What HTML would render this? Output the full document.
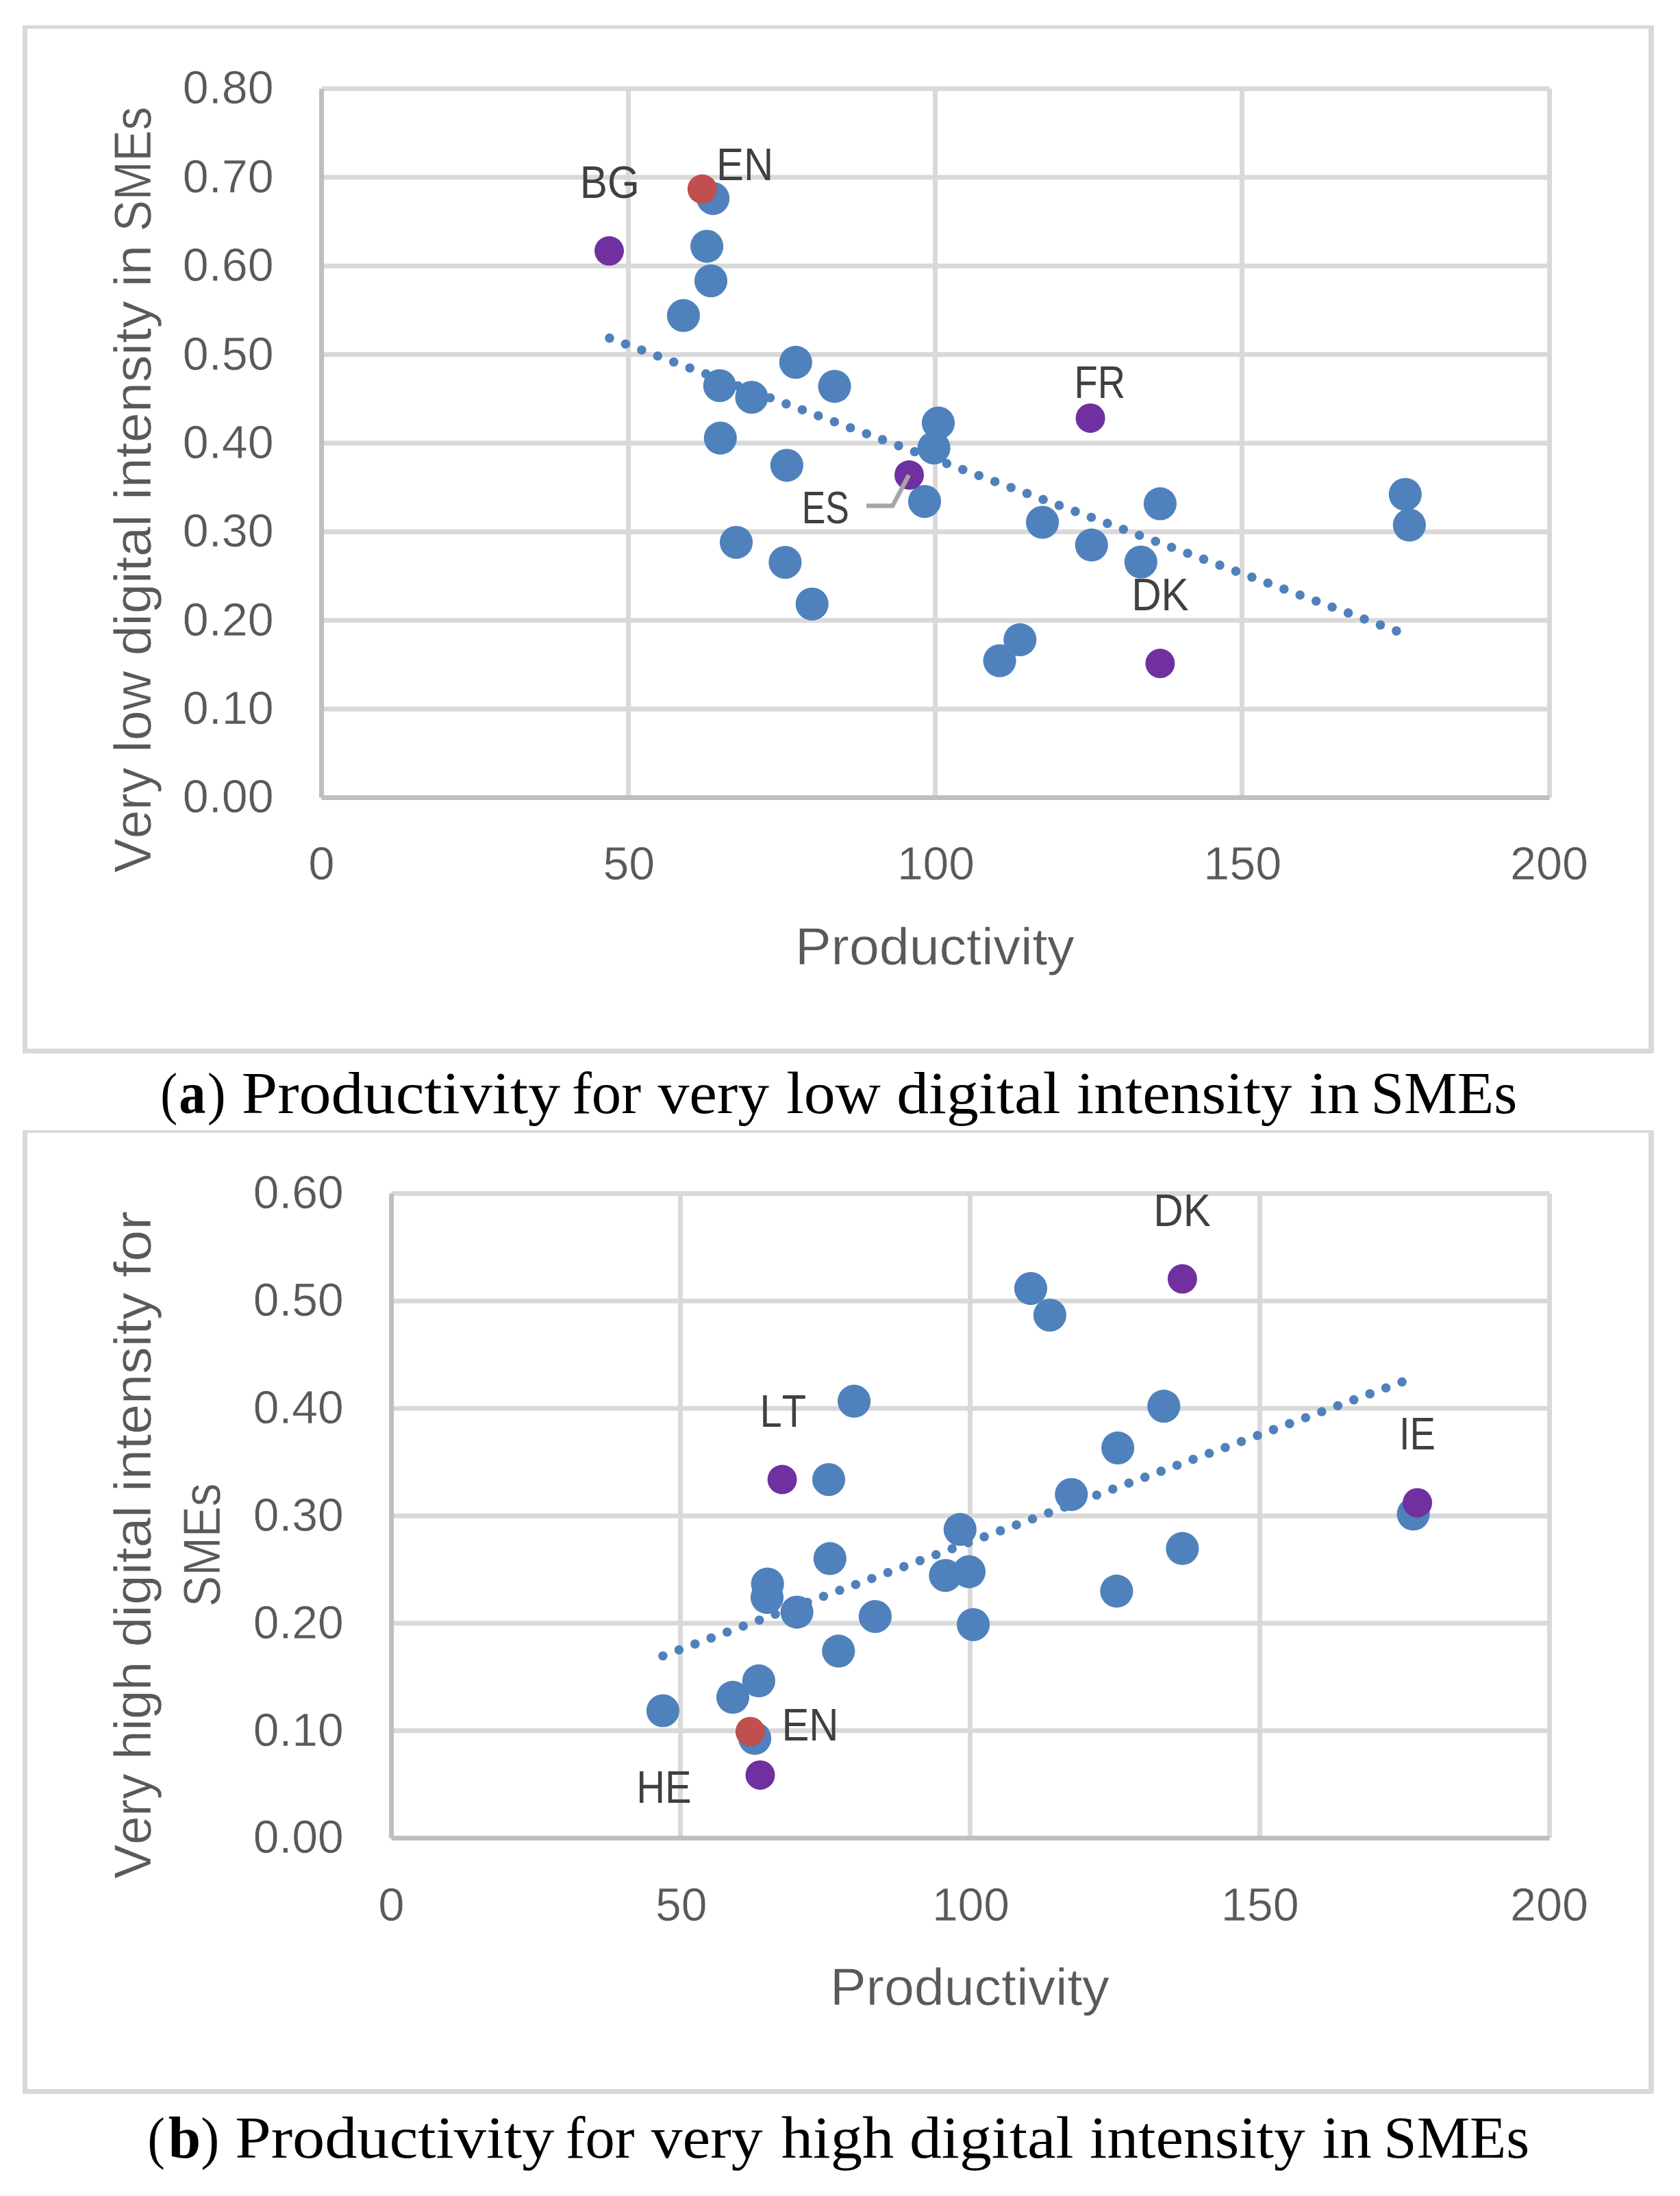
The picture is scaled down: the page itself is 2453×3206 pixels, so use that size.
<!DOCTYPE html>
<html lang="en"><head><meta charset="utf-8"><title>Productivity and digital intensity in SMEs</title>
<style>html,body{margin:0;padding:0;background:#fff}svg{display:block}text{font-family:"Liberation Sans", sans-serif;font-kerning:none}.ax{stroke:#fff;stroke-width:.55px}.cap{font-family:"Liberation Serif", serif}.capb{font-family:"Liberation Serif", serif;font-weight:bold}</style></head><body>
<svg width="2453" height="3206" viewBox="0 0 2453 3206">
<rect width="2453" height="3206" fill="#fff"/>
<rect x="33.00" y="37.00" width="2382.00" height="5.00" fill="#d9d9d9"/>
<rect x="33.00" y="1531.00" width="2381.00" height="7.00" fill="#d9d9d9"/>
<rect x="33.00" y="37.00" width="7.00" height="1501.00" fill="#d9d9d9"/>
<rect x="2407.00" y="37.00" width="8.00" height="1498.00" fill="#d9d9d9"/>
<rect x="469.50" y="126.00" width="1793.00" height="7.00" fill="#d9d9d9"/>
<rect x="469.50" y="255.38" width="1793.00" height="7.00" fill="#d9d9d9"/>
<rect x="469.50" y="384.75" width="1793.00" height="7.00" fill="#d9d9d9"/>
<rect x="469.50" y="514.12" width="1793.00" height="7.00" fill="#d9d9d9"/>
<rect x="469.50" y="643.50" width="1793.00" height="7.00" fill="#d9d9d9"/>
<rect x="469.50" y="772.88" width="1793.00" height="7.00" fill="#d9d9d9"/>
<rect x="469.50" y="902.25" width="1793.00" height="7.00" fill="#d9d9d9"/>
<rect x="469.50" y="1031.62" width="1793.00" height="7.00" fill="#d9d9d9"/>
<rect x="914.00" y="129.50" width="7.00" height="1035.00" fill="#d9d9d9"/>
<rect x="1362.00" y="129.50" width="7.00" height="1035.00" fill="#d9d9d9"/>
<rect x="1810.00" y="129.50" width="7.00" height="1035.00" fill="#d9d9d9"/>
<rect x="2259.00" y="129.50" width="7.00" height="1035.00" fill="#d9d9d9"/>
<rect x="466.00" y="129.50" width="7.00" height="1035.00" fill="#bfbfbf"/>
<rect x="469.50" y="1161.00" width="1793.00" height="7.00" fill="#bfbfbf"/>
<text class="ax" x="266.87" y="151.4" font-size="69.3" fill="#595959" textLength="132.69" lengthAdjust="spacingAndGlyphs">0.80</text>
<text class="ax" x="266.87" y="280.8" font-size="69.3" fill="#595959" textLength="132.69" lengthAdjust="spacingAndGlyphs">0.70</text>
<text class="ax" x="266.87" y="410.1" font-size="69.3" fill="#595959" textLength="132.69" lengthAdjust="spacingAndGlyphs">0.60</text>
<text class="ax" x="266.87" y="539.5" font-size="69.3" fill="#595959" textLength="132.69" lengthAdjust="spacingAndGlyphs">0.50</text>
<text class="ax" x="266.87" y="668.9" font-size="69.3" fill="#595959" textLength="132.69" lengthAdjust="spacingAndGlyphs">0.40</text>
<text class="ax" x="266.87" y="798.3" font-size="69.3" fill="#595959" textLength="132.69" lengthAdjust="spacingAndGlyphs">0.30</text>
<text class="ax" x="266.87" y="927.6" font-size="69.3" fill="#595959" textLength="132.69" lengthAdjust="spacingAndGlyphs">0.20</text>
<text class="ax" x="266.87" y="1057.0" font-size="69.3" fill="#595959" textLength="132.69" lengthAdjust="spacingAndGlyphs">0.10</text>
<text class="ax" x="266.87" y="1186.4" font-size="69.3" fill="#595959" textLength="132.69" lengthAdjust="spacingAndGlyphs">0.00</text>
<text class="ax" x="450.24" y="1283.7" font-size="69.3" fill="#595959" textLength="38.36" lengthAdjust="spacingAndGlyphs">0</text>
<text class="ax" x="880.52" y="1283.7" font-size="69.3" fill="#595959" textLength="75.68" lengthAdjust="spacingAndGlyphs">50</text>
<text class="ax" x="1309.91" y="1283.7" font-size="69.3" fill="#595959" textLength="113.04" lengthAdjust="spacingAndGlyphs">100</text>
<text class="ax" x="1757.37" y="1283.7" font-size="69.3" fill="#595959" textLength="113.95" lengthAdjust="spacingAndGlyphs">150</text>
<text class="ax" x="2204.97" y="1283.7" font-size="69.3" fill="#595959" textLength="114.10" lengthAdjust="spacingAndGlyphs">200</text>
<circle cx="890.0" cy="493.6" r="6.8" fill="#4f81bd"/>
<circle cx="913.4" cy="502.3" r="6.8" fill="#4f81bd"/>
<circle cx="936.9" cy="511.0" r="6.8" fill="#4f81bd"/>
<circle cx="960.3" cy="519.8" r="6.8" fill="#4f81bd"/>
<circle cx="983.8" cy="528.5" r="6.8" fill="#4f81bd"/>
<circle cx="1007.2" cy="537.2" r="6.8" fill="#4f81bd"/>
<circle cx="1030.7" cy="545.9" r="6.8" fill="#4f81bd"/>
<circle cx="1054.1" cy="554.7" r="6.8" fill="#4f81bd"/>
<circle cx="1077.6" cy="563.4" r="6.8" fill="#4f81bd"/>
<circle cx="1101.0" cy="572.1" r="6.8" fill="#4f81bd"/>
<circle cx="1124.5" cy="580.8" r="6.8" fill="#4f81bd"/>
<circle cx="1147.9" cy="589.6" r="6.8" fill="#4f81bd"/>
<circle cx="1171.4" cy="598.3" r="6.8" fill="#4f81bd"/>
<circle cx="1194.8" cy="607.0" r="6.8" fill="#4f81bd"/>
<circle cx="1218.3" cy="615.7" r="6.8" fill="#4f81bd"/>
<circle cx="1241.7" cy="624.5" r="6.8" fill="#4f81bd"/>
<circle cx="1265.2" cy="633.2" r="6.8" fill="#4f81bd"/>
<circle cx="1288.6" cy="641.9" r="6.8" fill="#4f81bd"/>
<circle cx="1312.0" cy="650.6" r="6.8" fill="#4f81bd"/>
<circle cx="1335.5" cy="659.4" r="6.8" fill="#4f81bd"/>
<circle cx="1358.9" cy="668.1" r="6.8" fill="#4f81bd"/>
<circle cx="1382.4" cy="676.8" r="6.8" fill="#4f81bd"/>
<circle cx="1405.8" cy="685.5" r="6.8" fill="#4f81bd"/>
<circle cx="1429.3" cy="694.3" r="6.8" fill="#4f81bd"/>
<circle cx="1452.7" cy="703.0" r="6.8" fill="#4f81bd"/>
<circle cx="1476.2" cy="711.7" r="6.8" fill="#4f81bd"/>
<circle cx="1499.6" cy="720.4" r="6.8" fill="#4f81bd"/>
<circle cx="1523.1" cy="729.2" r="6.8" fill="#4f81bd"/>
<circle cx="1546.5" cy="737.9" r="6.8" fill="#4f81bd"/>
<circle cx="1570.0" cy="746.6" r="6.8" fill="#4f81bd"/>
<circle cx="1593.4" cy="755.3" r="6.8" fill="#4f81bd"/>
<circle cx="1616.9" cy="764.1" r="6.8" fill="#4f81bd"/>
<circle cx="1640.3" cy="772.8" r="6.8" fill="#4f81bd"/>
<circle cx="1663.7" cy="781.5" r="6.8" fill="#4f81bd"/>
<circle cx="1687.2" cy="790.2" r="6.8" fill="#4f81bd"/>
<circle cx="1710.6" cy="799.0" r="6.8" fill="#4f81bd"/>
<circle cx="1734.1" cy="807.7" r="6.8" fill="#4f81bd"/>
<circle cx="1757.5" cy="816.4" r="6.8" fill="#4f81bd"/>
<circle cx="1781.0" cy="825.1" r="6.8" fill="#4f81bd"/>
<circle cx="1804.4" cy="833.9" r="6.8" fill="#4f81bd"/>
<circle cx="1827.9" cy="842.6" r="6.8" fill="#4f81bd"/>
<circle cx="1851.3" cy="851.3" r="6.8" fill="#4f81bd"/>
<circle cx="1874.8" cy="860.0" r="6.8" fill="#4f81bd"/>
<circle cx="1898.2" cy="868.8" r="6.8" fill="#4f81bd"/>
<circle cx="1921.7" cy="877.5" r="6.8" fill="#4f81bd"/>
<circle cx="1945.1" cy="886.2" r="6.8" fill="#4f81bd"/>
<circle cx="1968.6" cy="894.9" r="6.8" fill="#4f81bd"/>
<circle cx="1992.0" cy="903.7" r="6.8" fill="#4f81bd"/>
<circle cx="2015.5" cy="912.4" r="6.8" fill="#4f81bd"/>
<circle cx="2038.9" cy="921.1" r="6.8" fill="#4f81bd"/>
<circle cx="1041.1" cy="289.8" r="24.1" fill="#4f81bd"/>
<circle cx="1032.1" cy="359.6" r="24.1" fill="#4f81bd"/>
<circle cx="1038" cy="410" r="24.1" fill="#4f81bd"/>
<circle cx="997.9" cy="460.7" r="24.1" fill="#4f81bd"/>
<circle cx="1161.8" cy="528.9" r="24.1" fill="#4f81bd"/>
<circle cx="1218.6" cy="564.1" r="24.1" fill="#4f81bd"/>
<circle cx="1050.8" cy="563" r="24.1" fill="#4f81bd"/>
<circle cx="1097.5" cy="580" r="24.1" fill="#4f81bd"/>
<circle cx="1051.8" cy="639.6" r="24.1" fill="#4f81bd"/>
<circle cx="1148.9" cy="679.3" r="24.1" fill="#4f81bd"/>
<circle cx="1370" cy="617.5" r="24.1" fill="#4f81bd"/>
<circle cx="1363.6" cy="653.9" r="24.1" fill="#4f81bd"/>
<circle cx="1350" cy="732.05" r="24.1" fill="#4f81bd"/>
<circle cx="1075" cy="791.8" r="24.1" fill="#4f81bd"/>
<circle cx="1146.4" cy="821" r="24.1" fill="#4f81bd"/>
<circle cx="1185.7" cy="881.8" r="24.1" fill="#4f81bd"/>
<circle cx="1522.1" cy="762.5" r="24.1" fill="#4f81bd"/>
<circle cx="1593.8" cy="795.7" r="24.1" fill="#4f81bd"/>
<circle cx="1665.8" cy="820.5" r="24.1" fill="#4f81bd"/>
<circle cx="1489.3" cy="933.9" r="24.1" fill="#4f81bd"/>
<circle cx="1459.6" cy="964.6" r="24.1" fill="#4f81bd"/>
<circle cx="1693.9" cy="735.4" r="24.1" fill="#4f81bd"/>
<circle cx="2051.8" cy="721.8" r="24.1" fill="#4f81bd"/>
<circle cx="2057.9" cy="766.6" r="24.1" fill="#4f81bd"/>
<circle cx="889.5" cy="366.3" r="21.5" fill="#7030a0"/>
<circle cx="1327.5" cy="693.5" r="21.5" fill="#7030a0"/>
<circle cx="1592.1" cy="610.4" r="21.5" fill="#7030a0"/>
<circle cx="1693.9" cy="968.6" r="21.5" fill="#7030a0"/>
<circle cx="1025.3" cy="276" r="21.5" fill="#c0504d"/>
<polyline points="1327,693.5 1303.3,738.5 1265,738.5" fill="none" stroke="#a6a6a6" stroke-width="6.5"/>
<text class="ax" transform="translate(220.0,0) rotate(-90)" y="0" font-size="76.8" fill="#595959"><tspan x="-1274.07" textLength="153.50" lengthAdjust="spacingAndGlyphs">Very</tspan> <tspan x="-1098.87" textLength="119.27" lengthAdjust="spacingAndGlyphs">low</tspan> <tspan x="-957.25" textLength="205.98" lengthAdjust="spacingAndGlyphs">digital</tspan> <tspan x="-729.75" textLength="290.45" lengthAdjust="spacingAndGlyphs">intensity</tspan> <tspan x="-418.92" textLength="61.24" lengthAdjust="spacingAndGlyphs">in</tspan> <tspan x="-337.67" textLength="181.85" lengthAdjust="spacingAndGlyphs">SMEs</tspan></text>
<text class="ax" x="1160.99" y="1408.0" font-size="76.8" fill="#595959" textLength="407.81" lengthAdjust="spacingAndGlyphs">Productivity</text>
<text x="846.83" y="288.5" font-size="66" fill="#404040" textLength="86.98" lengthAdjust="spacingAndGlyphs">BG</text>
<text x="1046.06" y="262.7" font-size="66" fill="#404040" textLength="83.17" lengthAdjust="spacingAndGlyphs">EN</text>
<text x="1170.73" y="763.9" font-size="66" fill="#404040" textLength="69.10" lengthAdjust="spacingAndGlyphs">ES</text>
<text x="1568.59" y="581.3" font-size="66" fill="#404040" textLength="74.46" lengthAdjust="spacingAndGlyphs">FR</text>
<text x="1652.14" y="890.6" font-size="66" fill="#404040" textLength="83.61" lengthAdjust="spacingAndGlyphs">DK</text>
<text class="cap" y="1625.0" font-size="87" fill="#000"><tspan font-size="84.6" x="234.33" textLength="24.79" lengthAdjust="spacingAndGlyphs">(</tspan><tspan class="capb" x="261.20" textLength="39.17" lengthAdjust="spacingAndGlyphs">a</tspan><tspan font-size="84.6" x="302.77" textLength="26.92" lengthAdjust="spacingAndGlyphs">)</tspan> <tspan x="352.81" textLength="465.32" lengthAdjust="spacingAndGlyphs">Productivity</tspan> <tspan x="834.90" textLength="101.16" lengthAdjust="spacingAndGlyphs">for</tspan> <tspan x="960.40" textLength="162.73" lengthAdjust="spacingAndGlyphs">very</tspan> <tspan x="1148.16" textLength="137.69" lengthAdjust="spacingAndGlyphs">low</tspan> <tspan x="1309.22" textLength="239.35" lengthAdjust="spacingAndGlyphs">digital</tspan> <tspan x="1571.92" textLength="314.55" lengthAdjust="spacingAndGlyphs">intensity</tspan> <tspan x="1911.82" textLength="72.99" lengthAdjust="spacingAndGlyphs">in</tspan> <tspan x="2001.40" textLength="213.78" lengthAdjust="spacingAndGlyphs">SMEs</tspan></text>
<rect x="33.00" y="1650.00" width="2382.00" height="4.00" fill="#d9d9d9"/>
<rect x="33.00" y="3050.00" width="2381.00" height="7.00" fill="#d9d9d9"/>
<rect x="33.00" y="1650.00" width="7.00" height="1407.00" fill="#d9d9d9"/>
<rect x="2407.00" y="1650.00" width="8.00" height="1404.00" fill="#d9d9d9"/>
<rect x="571.50" y="1739.00" width="1691.00" height="7.00" fill="#d9d9d9"/>
<rect x="571.50" y="1895.83" width="1691.00" height="7.00" fill="#d9d9d9"/>
<rect x="571.50" y="2052.67" width="1691.00" height="7.00" fill="#d9d9d9"/>
<rect x="571.50" y="2209.50" width="1691.00" height="7.00" fill="#d9d9d9"/>
<rect x="571.50" y="2366.33" width="1691.00" height="7.00" fill="#d9d9d9"/>
<rect x="571.50" y="2523.17" width="1691.00" height="7.00" fill="#d9d9d9"/>
<rect x="990.00" y="1742.50" width="7.00" height="941.00" fill="#d9d9d9"/>
<rect x="1413.00" y="1742.50" width="7.00" height="941.00" fill="#d9d9d9"/>
<rect x="1836.00" y="1742.50" width="7.00" height="941.00" fill="#d9d9d9"/>
<rect x="2259.00" y="1742.50" width="7.00" height="941.00" fill="#d9d9d9"/>
<rect x="568.00" y="1742.50" width="7.00" height="941.00" fill="#bfbfbf"/>
<rect x="571.50" y="2680.00" width="1691.00" height="7.00" fill="#bfbfbf"/>
<text class="ax" x="369.68" y="1764.4" font-size="69.3" fill="#595959" textLength="132.07" lengthAdjust="spacingAndGlyphs">0.60</text>
<text class="ax" x="369.68" y="1921.2" font-size="69.3" fill="#595959" textLength="132.07" lengthAdjust="spacingAndGlyphs">0.50</text>
<text class="ax" x="369.68" y="2078.1" font-size="69.3" fill="#595959" textLength="132.07" lengthAdjust="spacingAndGlyphs">0.40</text>
<text class="ax" x="369.68" y="2234.9" font-size="69.3" fill="#595959" textLength="132.07" lengthAdjust="spacingAndGlyphs">0.30</text>
<text class="ax" x="369.68" y="2391.7" font-size="69.3" fill="#595959" textLength="132.07" lengthAdjust="spacingAndGlyphs">0.20</text>
<text class="ax" x="369.68" y="2548.6" font-size="69.3" fill="#595959" textLength="132.07" lengthAdjust="spacingAndGlyphs">0.10</text>
<text class="ax" x="369.68" y="2705.4" font-size="69.3" fill="#595959" textLength="132.07" lengthAdjust="spacingAndGlyphs">0.00</text>
<text class="ax" x="552.24" y="2803.5" font-size="69.3" fill="#595959" textLength="38.36" lengthAdjust="spacingAndGlyphs">0</text>
<text class="ax" x="957.02" y="2803.5" font-size="69.3" fill="#595959" textLength="75.68" lengthAdjust="spacingAndGlyphs">50</text>
<text class="ax" x="1360.91" y="2803.5" font-size="69.3" fill="#595959" textLength="113.04" lengthAdjust="spacingAndGlyphs">100</text>
<text class="ax" x="1782.87" y="2803.5" font-size="69.3" fill="#595959" textLength="113.95" lengthAdjust="spacingAndGlyphs">150</text>
<text class="ax" x="2204.97" y="2803.5" font-size="69.3" fill="#595959" textLength="114.10" lengthAdjust="spacingAndGlyphs">200</text>
<circle cx="967.9" cy="2417.5" r="6.8" fill="#4f81bd"/>
<circle cx="991.4" cy="2408.8" r="6.8" fill="#4f81bd"/>
<circle cx="1014.8" cy="2400.1" r="6.8" fill="#4f81bd"/>
<circle cx="1038.3" cy="2391.4" r="6.8" fill="#4f81bd"/>
<circle cx="1061.7" cy="2382.7" r="6.8" fill="#4f81bd"/>
<circle cx="1085.2" cy="2374.0" r="6.8" fill="#4f81bd"/>
<circle cx="1108.7" cy="2365.3" r="6.8" fill="#4f81bd"/>
<circle cx="1132.1" cy="2356.6" r="6.8" fill="#4f81bd"/>
<circle cx="1155.6" cy="2347.9" r="6.8" fill="#4f81bd"/>
<circle cx="1179.0" cy="2339.2" r="6.8" fill="#4f81bd"/>
<circle cx="1202.5" cy="2330.5" r="6.8" fill="#4f81bd"/>
<circle cx="1226.0" cy="2321.8" r="6.8" fill="#4f81bd"/>
<circle cx="1249.4" cy="2313.2" r="6.8" fill="#4f81bd"/>
<circle cx="1272.9" cy="2304.5" r="6.8" fill="#4f81bd"/>
<circle cx="1296.4" cy="2295.8" r="6.8" fill="#4f81bd"/>
<circle cx="1319.8" cy="2287.1" r="6.8" fill="#4f81bd"/>
<circle cx="1343.3" cy="2278.4" r="6.8" fill="#4f81bd"/>
<circle cx="1366.7" cy="2269.7" r="6.8" fill="#4f81bd"/>
<circle cx="1390.2" cy="2261.0" r="6.8" fill="#4f81bd"/>
<circle cx="1413.7" cy="2252.3" r="6.8" fill="#4f81bd"/>
<circle cx="1437.1" cy="2243.6" r="6.8" fill="#4f81bd"/>
<circle cx="1460.6" cy="2234.9" r="6.8" fill="#4f81bd"/>
<circle cx="1484.0" cy="2226.2" r="6.8" fill="#4f81bd"/>
<circle cx="1507.5" cy="2217.5" r="6.8" fill="#4f81bd"/>
<circle cx="1531.0" cy="2208.8" r="6.8" fill="#4f81bd"/>
<circle cx="1554.4" cy="2200.1" r="6.8" fill="#4f81bd"/>
<circle cx="1577.9" cy="2191.4" r="6.8" fill="#4f81bd"/>
<circle cx="1601.3" cy="2182.7" r="6.8" fill="#4f81bd"/>
<circle cx="1624.8" cy="2174.0" r="6.8" fill="#4f81bd"/>
<circle cx="1648.3" cy="2165.3" r="6.8" fill="#4f81bd"/>
<circle cx="1671.7" cy="2156.6" r="6.8" fill="#4f81bd"/>
<circle cx="1695.2" cy="2147.9" r="6.8" fill="#4f81bd"/>
<circle cx="1718.6" cy="2139.2" r="6.8" fill="#4f81bd"/>
<circle cx="1742.1" cy="2130.5" r="6.8" fill="#4f81bd"/>
<circle cx="1765.6" cy="2121.8" r="6.8" fill="#4f81bd"/>
<circle cx="1789.0" cy="2113.2" r="6.8" fill="#4f81bd"/>
<circle cx="1812.5" cy="2104.5" r="6.8" fill="#4f81bd"/>
<circle cx="1836.0" cy="2095.8" r="6.8" fill="#4f81bd"/>
<circle cx="1859.4" cy="2087.1" r="6.8" fill="#4f81bd"/>
<circle cx="1882.9" cy="2078.4" r="6.8" fill="#4f81bd"/>
<circle cx="1906.3" cy="2069.7" r="6.8" fill="#4f81bd"/>
<circle cx="1929.8" cy="2061.0" r="6.8" fill="#4f81bd"/>
<circle cx="1953.3" cy="2052.3" r="6.8" fill="#4f81bd"/>
<circle cx="1976.7" cy="2043.6" r="6.8" fill="#4f81bd"/>
<circle cx="2000.2" cy="2034.9" r="6.8" fill="#4f81bd"/>
<circle cx="2023.6" cy="2026.2" r="6.8" fill="#4f81bd"/>
<circle cx="2047.1" cy="2017.5" r="6.8" fill="#4f81bd"/>
<circle cx="967.9" cy="2497.5" r="24.1" fill="#4f81bd"/>
<circle cx="1070" cy="2477.9" r="24.1" fill="#4f81bd"/>
<circle cx="1107.9" cy="2453.9" r="24.1" fill="#4f81bd"/>
<circle cx="1102.1" cy="2537.9" r="24.1" fill="#4f81bd"/>
<circle cx="1224.3" cy="2410.4" r="24.1" fill="#4f81bd"/>
<circle cx="1277.9" cy="2360" r="24.1" fill="#4f81bd"/>
<circle cx="1163.6" cy="2353.6" r="24.1" fill="#4f81bd"/>
<circle cx="1120" cy="2332.1" r="24.1" fill="#4f81bd"/>
<circle cx="1120.7" cy="2312.5" r="24.1" fill="#4f81bd"/>
<circle cx="1421.1" cy="2371.8" r="24.1" fill="#4f81bd"/>
<circle cx="1380.4" cy="2300" r="24.1" fill="#4f81bd"/>
<circle cx="1415" cy="2294.6" r="24.1" fill="#4f81bd"/>
<circle cx="1247.1" cy="2045.7" r="24.1" fill="#4f81bd"/>
<circle cx="1210" cy="2160" r="24.1" fill="#4f81bd"/>
<circle cx="1211.8" cy="2275.4" r="24.1" fill="#4f81bd"/>
<circle cx="1401.8" cy="2232.9" r="24.1" fill="#4f81bd"/>
<circle cx="1505" cy="1881.1" r="24.1" fill="#4f81bd"/>
<circle cx="1532.9" cy="1920" r="24.1" fill="#4f81bd"/>
<circle cx="1699.3" cy="2052.9" r="24.1" fill="#4f81bd"/>
<circle cx="1632.1" cy="2113.9" r="24.1" fill="#4f81bd"/>
<circle cx="1564.3" cy="2181.8" r="24.1" fill="#4f81bd"/>
<circle cx="1726.4" cy="2260.7" r="24.1" fill="#4f81bd"/>
<circle cx="1630.4" cy="2322.9" r="24.1" fill="#4f81bd"/>
<circle cx="2063.6" cy="2210.4" r="24.1" fill="#4f81bd"/>
<circle cx="1110" cy="2591.4" r="21.5" fill="#7030a0"/>
<circle cx="1142.1" cy="2160" r="21.5" fill="#7030a0"/>
<circle cx="1726.4" cy="1867.1" r="21.5" fill="#7030a0"/>
<circle cx="2069.6" cy="2193.9" r="21.5" fill="#7030a0"/>
<circle cx="1095.4" cy="2527.9" r="21.5" fill="#c0504d"/>
<text class="ax" transform="translate(220.0,0) rotate(-90)" y="0" font-size="76.8" fill="#595959"><tspan x="-2742.77" textLength="153.40" lengthAdjust="spacingAndGlyphs">Very</tspan> <tspan x="-2568.60" textLength="142.83" lengthAdjust="spacingAndGlyphs">high</tspan> <tspan x="-2404.46" textLength="206.29" lengthAdjust="spacingAndGlyphs">digital</tspan> <tspan x="-2177.65" textLength="290.45" lengthAdjust="spacingAndGlyphs">intensity</tspan> <tspan x="-1864.84" textLength="96.59" lengthAdjust="spacingAndGlyphs">for</tspan></text>
<text class="ax" transform="translate(321.0,0) rotate(-90)" y="0" font-size="76.8" fill="#595959"><tspan x="-2345.64" textLength="180.31" lengthAdjust="spacingAndGlyphs">SMEs</tspan></text>
<text class="ax" x="1211.99" y="2927.0" font-size="76.8" fill="#595959" textLength="407.81" lengthAdjust="spacingAndGlyphs">Productivity</text>
<text x="1141.47" y="2540.6" font-size="66" fill="#404040" textLength="83.06" lengthAdjust="spacingAndGlyphs">EN</text>
<text x="929.13" y="2632.0" font-size="66" fill="#404040" textLength="80.43" lengthAdjust="spacingAndGlyphs">HE</text>
<text x="1109.52" y="2082.7" font-size="66" fill="#404040" textLength="67.41" lengthAdjust="spacingAndGlyphs">LT</text>
<text x="1684.34" y="1789.9" font-size="66" fill="#404040" textLength="83.51" lengthAdjust="spacingAndGlyphs">DK</text>
<text x="2043.02" y="2116.0" font-size="66" fill="#404040" textLength="52.97" lengthAdjust="spacingAndGlyphs">IE</text>
<text class="cap" y="3149.6" font-size="87" fill="#000"><tspan font-size="84.6" x="215.52" textLength="25.24" lengthAdjust="spacingAndGlyphs">(</tspan><tspan class="capb" x="245.63" textLength="47.38" lengthAdjust="spacingAndGlyphs">b</tspan><tspan font-size="84.6" x="293.16" textLength="26.99" lengthAdjust="spacingAndGlyphs">)</tspan> <tspan x="343.21" textLength="466.23" lengthAdjust="spacingAndGlyphs">Productivity</tspan> <tspan x="825.71" textLength="100.74" lengthAdjust="spacingAndGlyphs">for</tspan> <tspan x="950.80" textLength="162.73" lengthAdjust="spacingAndGlyphs">very</tspan> <tspan x="1140.77" textLength="164.58" lengthAdjust="spacingAndGlyphs">high</tspan> <tspan x="1327.97" textLength="239.71" lengthAdjust="spacingAndGlyphs">digital</tspan> <tspan x="1591.07" textLength="314.55" lengthAdjust="spacingAndGlyphs">intensity</tspan> <tspan x="1930.44" textLength="72.15" lengthAdjust="spacingAndGlyphs">in</tspan> <tspan x="2020.33" textLength="212.74" lengthAdjust="spacingAndGlyphs">SMEs</tspan></text>
</svg></body></html>
